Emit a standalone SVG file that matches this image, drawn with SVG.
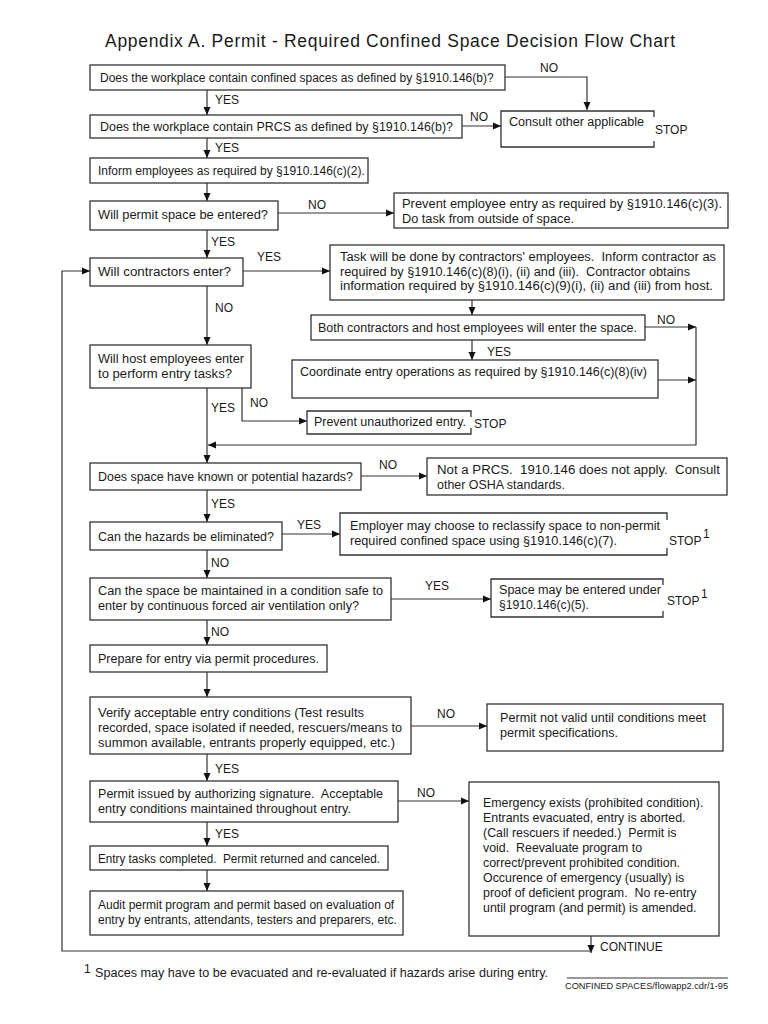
<svg xmlns="http://www.w3.org/2000/svg" width="768" height="1024" viewBox="0 0 768 1024">
<style>
text{font-family:"Liberation Sans",Arial,sans-serif;font-size:12px;fill:#1a1a1a;white-space:pre}
.box{fill:#fff;stroke:#333;stroke-width:1.3}
.open{fill:none;stroke:#333;stroke-width:1.3}
.c{fill:none;stroke:#333;stroke-width:1.2}
.title{font-size:17.5px}
.sm{font-size:9px}
.em{font-size:12.4px}
</style>
<defs>
<marker id="ah" markerUnits="userSpaceOnUse" markerWidth="8" markerHeight="8" refX="8" refY="4" orient="auto">
<path d="M0,0.5 L8,4 L0,7.5 z" fill="#111"/>
</marker>
</defs>
<rect width="768" height="1024" fill="#fff"/>
<text class="title" x="105" y="47" textLength="570" lengthAdjust="spacing">Appendix A. Permit - Required Confined Space Decision Flow Chart</text>

<g id="connectors">
<path class="c" d="M505,77 H587 V110" marker-end="url(#ah)"/>
<path class="c" d="M207,90 V115" marker-end="url(#ah)"/>
<path class="c" d="M462,126 H501" marker-end="url(#ah)"/>
<path class="c" d="M207,138 V158" marker-end="url(#ah)"/>
<path class="c" d="M207,183 V201" marker-end="url(#ah)"/>
<path class="c" d="M278,213 H394" marker-end="url(#ah)"/>
<path class="c" d="M207,230 V258" marker-end="url(#ah)"/>
<path class="c" d="M243,271 H330" marker-end="url(#ah)"/>
<path class="c" d="M207,286 V345" marker-end="url(#ah)"/>
<path class="c" d="M472,300 V315" marker-end="url(#ah)"/>
<path class="c" d="M645,327 H696" marker-end="url(#ah)"/>
<path class="c" d="M472,340 V360" marker-end="url(#ah)"/>
<path class="c" d="M658,380 H696" marker-end="url(#ah)"/>
<path class="c" d="M696,327 V445 H208" marker-end="url(#ah)"/>
<path class="c" d="M207,388 V463" marker-end="url(#ah)"/>
<path class="c" d="M242,388 V421 H307" marker-end="url(#ah)"/>
<path class="c" d="M361,476 H427" marker-end="url(#ah)"/>
<path class="c" d="M207,490 V522" marker-end="url(#ah)"/>
<path class="c" d="M282,534 H340" marker-end="url(#ah)"/>
<path class="c" d="M207,550 V578" marker-end="url(#ah)"/>
<path class="c" d="M391,599 H491" marker-end="url(#ah)"/>
<path class="c" d="M207,620 V645" marker-end="url(#ah)"/>
<path class="c" d="M207,672 V697" marker-end="url(#ah)"/>
<path class="c" d="M411,726 H487" marker-end="url(#ah)"/>
<path class="c" d="M207,754 V781" marker-end="url(#ah)"/>
<path class="c" d="M398,801 H469" marker-end="url(#ah)"/>
<path class="c" d="M207,822 V846" marker-end="url(#ah)"/>
<path class="c" d="M207,870 V891" marker-end="url(#ah)"/>
<path class="c" d="M591,936 V953" marker-end="url(#ah)"/>
<path class="c" d="M591,951 H62 V271 H90" marker-end="url(#ah)"/>
<text x="540" y="72">NO</text>
<text x="215" y="104">YES</text>
<text x="470" y="121">NO</text>
<text x="215" y="152">YES</text>
<text x="308" y="209">NO</text>
<text x="211" y="246">YES</text>
<text x="257" y="261">YES</text>
<text x="215" y="312">NO</text>
<text x="657" y="324">NO</text>
<text x="487" y="356">YES</text>
<text x="211" y="412">YES</text>
<text x="250" y="407">NO</text>
<text x="379" y="469">NO</text>
<text x="211" y="508">YES</text>
<text x="297" y="529">YES</text>
<text x="211" y="567">NO</text>
<text x="425" y="590">YES</text>
<text x="211" y="636">NO</text>
<text x="437" y="718">NO</text>
<text x="215" y="773">YES</text>
<text x="417" y="797">NO</text>
<text x="215" y="838">YES</text>
<text x="600" y="951">CONTINUE</text>
</g>

<g id="q1"><rect class="box" x="90" y="65" width="415" height="25"/><text x="100" y="82">Does the workplace contain confined spaces as defined by §1910.146(b)?</text></g>
<g id="q2"><rect class="box" x="90" y="115" width="372" height="23"/><text x="100" y="131" textLength="353" lengthAdjust="spacingAndGlyphs">Does the workplace contain PRCS as defined by §1910.146(b)?</text></g>
<g id="consult"><path class="open" d="M654,117 V111 H501 V147 H654 V141"/><text x="509" y="126" textLength="135" lengthAdjust="spacingAndGlyphs">Consult other applicable</text><text x="655" y="134">STOP</text></g>
<g id="inform"><rect class="box" x="90" y="158" width="278" height="25"/><text x="98" y="175">Inform employees as required by §1910.146(c)(2).</text></g>
<g id="q3"><rect class="box" x="90" y="201" width="188" height="29"/><text x="98" y="219" textLength="170" lengthAdjust="spacingAndGlyphs">Will permit space be entered?</text></g>
<g id="prevent-employee"><rect class="box" x="394" y="193" width="334" height="35"/><text x="402" y="208" textLength="320" lengthAdjust="spacingAndGlyphs">Prevent employee entry as required by §1910.146(c)(3).</text><text x="402" y="223" textLength="172" lengthAdjust="spacingAndGlyphs">Do task from outside of space.</text></g>
<g id="q4"><rect class="box" x="90" y="258" width="153" height="28"/><text x="98" y="276" textLength="133" lengthAdjust="spacingAndGlyphs">Will contractors enter?</text></g>
<g id="task"><rect class="box" x="330" y="245" width="394" height="55"/><text x="340" y="261" textLength="376" lengthAdjust="spacingAndGlyphs">Task will be done by contractors' employees.  Inform contractor as</text><text x="340" y="276" textLength="350" lengthAdjust="spacingAndGlyphs">required by §1910.146(c)(8)(i), (ii) and (iii).  Contractor obtains</text><text x="340" y="290" textLength="373" lengthAdjust="spacingAndGlyphs">information required by §1910.146(c)(9)(i), (ii) and (iii) from host.</text></g>
<g id="both"><rect class="box" x="311" y="315" width="334" height="25"/><text x="318" y="332" textLength="319" lengthAdjust="spacingAndGlyphs">Both contractors and host employees will enter the space.</text></g>
<g id="coordinate"><rect class="box" x="292" y="360" width="366" height="38"/><text x="300" y="376" textLength="347" lengthAdjust="spacingAndGlyphs">Coordinate entry operations as required by §1910.146(c)(8)(iv)</text></g>
<g id="q5"><rect class="box" x="90" y="345" width="161" height="43"/><text x="98" y="363" textLength="146" lengthAdjust="spacingAndGlyphs">Will host employees enter</text><text x="98" y="378" textLength="134" lengthAdjust="spacingAndGlyphs">to perform entry tasks?</text></g>
<g id="prevent-unauth"><path class="open" d="M471,417 V411 H307 V434 H471 V428"/><text x="314" y="426" textLength="152" lengthAdjust="spacingAndGlyphs">Prevent unauthorized entry.</text><text x="474" y="428">STOP</text></g>
<g id="q6"><rect class="box" x="90" y="463" width="271" height="27"/><text x="98" y="481" textLength="255" lengthAdjust="spacingAndGlyphs">Does space have known or potential hazards?</text></g>
<g id="not-prcs"><rect class="box" x="427" y="458" width="300" height="37"/><text x="437" y="474" textLength="283" lengthAdjust="spacingAndGlyphs">Not a PRCS.  1910.146 does not apply.  Consult</text><text x="437" y="489" textLength="128" lengthAdjust="spacingAndGlyphs">other OSHA standards.</text></g>
<g id="q7"><rect class="box" x="90" y="522" width="192" height="28"/><text x="98" y="541" textLength="176" lengthAdjust="spacingAndGlyphs">Can the hazards be eliminated?</text></g>
<g id="reclassify"><path class="open" d="M667,520 V513 H340 V555 H667 V548"/><text x="350" y="530" textLength="310" lengthAdjust="spacingAndGlyphs">Employer may choose to reclassify space to non-permit</text><text x="350" y="545" textLength="267" lengthAdjust="spacingAndGlyphs">required confined space using §1910.146(c)(7).</text><text x="669" y="545">STOP</text><text x="703" y="538" font-size="9">1</text></g>
<g id="q8"><rect class="box" x="90" y="578" width="301" height="42"/><text x="98" y="595" textLength="285" lengthAdjust="spacingAndGlyphs">Can the space be maintained in a condition safe to</text><text x="98" y="610" textLength="261" lengthAdjust="spacingAndGlyphs">enter by continuous forced air ventilation only?</text></g>
<g id="entered-under"><path class="open" d="M663,585 V579 H491 V617 H663 V611"/><text x="499" y="594" textLength="162" lengthAdjust="spacingAndGlyphs">Space may be entered under</text><text x="499" y="609" textLength="90" lengthAdjust="spacingAndGlyphs">§1910.146(c)(5).</text><text x="667" y="605">STOP</text><text x="701" y="598" font-size="9">1</text></g>
<g id="prepare"><rect class="box" x="90" y="645" width="237" height="27"/><text x="98" y="663" textLength="221" lengthAdjust="spacingAndGlyphs">Prepare for entry via permit procedures.</text></g>
<g id="verify"><rect class="box" x="90" y="697" width="321" height="57"/><text x="98" y="717" textLength="266" lengthAdjust="spacingAndGlyphs">Verify acceptable entry conditions (Test results</text><text x="98" y="732" textLength="304" lengthAdjust="spacingAndGlyphs">recorded, space isolated if needed, rescuers/means to</text><text x="98" y="747" textLength="297" lengthAdjust="spacingAndGlyphs">summon available, entrants properly equipped, etc.)</text></g>
<g id="not-valid"><rect class="box" x="487" y="704" width="236" height="47"/><text x="500" y="722" textLength="206" lengthAdjust="spacingAndGlyphs">Permit not valid until conditions meet</text><text x="500" y="737" textLength="118" lengthAdjust="spacingAndGlyphs">permit specifications.</text></g>
<g id="issued"><rect class="box" x="90" y="781" width="308" height="41"/><text x="98" y="798" textLength="285" lengthAdjust="spacingAndGlyphs">Permit issued by authorizing signature.  Acceptable</text><text x="98" y="813" textLength="253" lengthAdjust="spacingAndGlyphs">entry conditions maintained throughout entry.</text></g>
<g id="emergency"><rect class="box" x="469" y="782" width="250" height="154"/>
<text class="em" x="483" y="807">Emergency exists (prohibited condition).</text>
<text class="em" x="483" y="822">Entrants evacuated, entry is aborted.</text>
<text class="em" x="483" y="837">(Call rescuers if needed.)  Permit is</text>
<text class="em" x="483" y="852">void.  Reevaluate program to</text>
<text class="em" x="483" y="867">correct/prevent prohibited condition.</text>
<text class="em" x="483" y="882">Occurence of emergency (usually) is</text>
<text class="em" x="483" y="897">proof of deficient program.  No re-entry</text>
<text class="em" x="483" y="912">until program (and permit) is amended.</text></g>
<g id="completed"><rect class="box" x="90" y="846" width="298" height="24"/><text x="98" y="863" textLength="282" lengthAdjust="spacingAndGlyphs">Entry tasks completed.  Permit returned and canceled.</text></g>
<g id="audit"><rect class="box" x="90" y="891" width="313" height="44"/><text x="98" y="909">Audit permit program and permit based on evaluation of</text><text x="98" y="924">entry by entrants, attendants, testers and preparers, etc.</text></g>

<g id="footer">
<text x="84" y="973" font-size="10">1</text>
<text x="95" y="977" textLength="453" lengthAdjust="spacingAndGlyphs">Spaces may have to be evacuated and re-evaluated if hazards arise during entry.</text>
<line x1="567" y1="978" x2="728" y2="978" stroke="#333" stroke-width="1"/>
<text class="sm" x="565" y="989" textLength="163" lengthAdjust="spacingAndGlyphs">CONFINED SPACES/flowapp2.cdr/1-95</text>
</g>
</svg>
